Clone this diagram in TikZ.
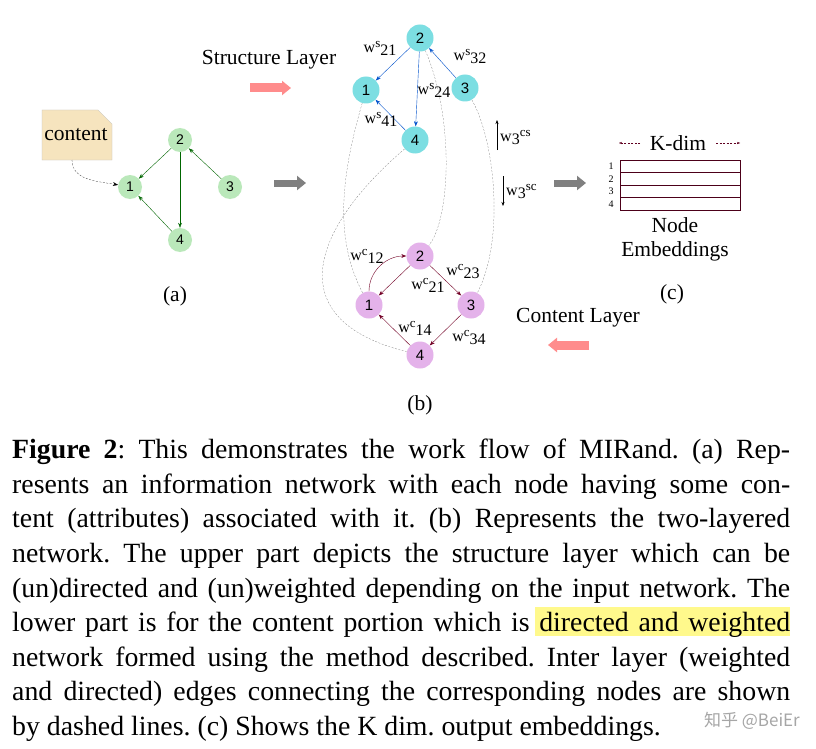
\documentclass[tikz,border=0pt]{standalone}
\usepackage{fontspec}
\setmainfont{Liberation Serif}
\newfontfamily\sansf{Liberation Sans}
\newfontfamily\cjk{Noto Sans CJK SC}
\usetikzlibrary{arrows.meta}
\definecolor{scyan}{RGB}{124,222,226}
\definecolor{cpink}{RGB}{228,178,234}
\definecolor{agreen}{RGB}{186,232,186}
\definecolor{cbox}{RGB}{246,228,190}
\newcommand{\wsup}[3]{w\raisebox{5pt}{\fontsize{13}{13}\selectfont #1}\raisebox{-3pt}{#2}#3}
\begin{document}
\frenchspacing
\begin{tikzpicture}[x=1pt,y=-1pt,
  gn/.style={circle,fill=agreen,draw=none,minimum size=24pt,inner sep=0pt,font=\sansf\fontsize{14}{14}\selectfont},
  sn/.style={circle,fill=scyan,draw=none,minimum size=27pt,inner sep=0pt,font=\sansf\fontsize{15}{15}\selectfont},
  cn/.style={circle,fill=cpink,draw=none,minimum size=27pt,inner sep=0pt,font=\sansf\fontsize{15}{15}\selectfont},
  ga/.style={-{Stealth[length=5pt]},draw=green!40!black,thin},
  sa/.style={-{Stealth[length=5pt]},draw=blue!60!cyan!80!black,thin},
  ca/.style={-{Stealth[length=5pt]},draw=purple!60!black,thin},
  il/.style={dashed,draw=gray!80!black,very thin,dash pattern=on 2pt off 1.5pt},
  wl/.style={font=\fontsize{16}{16}\selectfont,inner sep=1pt},
  lbl/.style={font=\fontsize{21.5}{21.5}\selectfont},
  fat/.style={line width=7pt,-{Triangle[length=9pt,width=14pt]}},
  capl/.style={anchor=base west,inner sep=0pt,font=\fontsize{27.8}{27.8}\selectfont}]
\useasboundingbox (0,0) rectangle (816,749);
\fill[white] (0,0) rectangle (816,749);
% (a)
\node[gn] (a1) at (130,187) {1};
\node[gn] (a2) at (180,140) {2};
\node[gn] (a3) at (230,187) {3};
\node[gn] (a4) at (180,240) {4};
\fill[cbox,draw=gray!50,very thin] (42,110) -- (98,110) -- (112,124) -- (112,160) -- (42,160) -- cycle;
\node[lbl] (ct) at (76,135) {content};
\coordinate (ctb) at (72,160);
\draw[ga] (a2) -- (a1);
\draw[ga] (a2) -- (a4);
\draw[ga] (a3) -- (a2);
\draw[ga] (a4) -- (a1);
\draw[il,-{Stealth[length=5pt]},draw=black] (ctb) to[out=-90,in=170] (a1);
\node[lbl] (la) at (175,296) {(a)};
% grey arrows
\coordinate (g1s) at (274,183); \coordinate (g1e) at (306,183);
\coordinate (g2s) at (554,183); \coordinate (g2e) at (586,183);
\draw[fat,gray] (g1s) -- (g1e);
\draw[fat,gray] (g2s) -- (g2e);
% pink arrows
\node[lbl] (sl) at (269,60) {Structure Layer};
\coordinate (p1s) at (250,88); \coordinate (p1e) at (291,88);
\draw[fat,line width=9pt,red!45!white] (p1s) -- (p1e);
\node[lbl] (cl) at (578,318) {Content Layer};
\coordinate (p2s) at (589,345); \coordinate (p2e) at (548,345);
\draw[fat,line width=9pt,red!45!white] (p2s) -- (p2e);
% structure layer
\node[sn] (s2) at (420,38) {2};
\node[sn] (s1) at (366,90) {1};
\node[sn] (s3) at (465,88) {3};
\node[sn] (s4) at (415,140) {4};
\draw[sa] (s2) -- (s1);
\draw[sa] (s2) -- (s4);
\draw[sa] (s3) -- (s2);
\draw[sa] (s4) -- (s1);
\node[wl] at (380,48) {\wsup{s}{21}{}};
\node[wl] at (470,57) {\wsup{s}{32}{}};
\node[wl] at (434,90) {\wsup{s}{24}{}};
\node[wl] at (381,119) {\wsup{s}{41}{}};
% content layer
\node[cn] (c2) at (420,256) {2};
\node[cn] (c1) at (369,305) {1};
\node[cn] (c3) at (471,305) {3};
\node[cn] (c4) at (420,355) {4};
\draw[ca] (c1) to[out=90,in=180] (c2);
\draw[ca] (c2) -- (c1);
\draw[ca] (c2) -- (c3);
\draw[ca] (c3) -- (c4);
\draw[ca] (c4) -- (c1);
\node[wl] at (367,256) {\wsup{c}{12}{}};
\node[wl] at (428,285) {\wsup{c}{21}{}};
\node[wl] at (463,272) {\wsup{c}{23}{}};
\node[wl] at (415,328) {\wsup{c}{14}{}};
\node[wl] at (469,338) {\wsup{c}{34}{}};
% inter-layer
\draw[il] (s1) .. controls (340,180) and (335,240) .. (c1);
\draw[il] (s4) .. controls (310,230) and (280,320) .. (c4);
\draw[il] (s2) .. controls (455,120) and (450,220) .. (c2);
\draw[il] (s3) .. controls (495,140) and (505,240) .. (c3);
\coordinate (u1) at (497,150); \coordinate (u2) at (497,120);
\coordinate (d1) at (503,176); \coordinate (d2) at (503,206);
\draw[-{Stealth[length=4pt]},thin] (u1) -- (u2);
\draw[-{Stealth[length=4pt]},thin] (d1) -- (d2);
\node[wl,anchor=west] at (499,138) {w\raisebox{-3pt}{3}\raisebox{5pt}{\fontsize{13}{13}\selectfont cs}};
\node[wl,anchor=west] at (505,192) {w\raisebox{-3pt}{3}\raisebox{5pt}{\fontsize{13}{13}\selectfont sc}};
% (c)
\node[lbl] (kd) at (678,143) {K-dim};
\coordinate (k1) at (640,143); \coordinate (k2) at (619,143);
\coordinate (k3) at (716,143); \coordinate (k4) at (740,143);
\draw[il,draw=purple!50!black,-{Stealth[length=3pt]}] (k1) -- (k2);
\draw[il,draw=purple!50!black,-{Stealth[length=3pt]}] (k3) -- (k4);
\draw[purple!40!black,thin] (620,160) rectangle (740,210);
\foreach \yy in {172.5,185,197.5} \draw[purple!40!black,thin] (620,\yy) -- (740,\yy);
\foreach \i/\yy in {1/166,2/179,3/191,4/204} \node[font=\fontsize{10}{10}\selectfont,inner sep=0pt] at (611,\yy) {\i};
\node[lbl] at (675,225) {Node};
\node[lbl] at (675,251) {Embeddings};
\node[lbl] at (672,294) {(c)};
\node[lbl] at (420,405) {(b)};
% caption
\fill[yellow!45!white] (535,607) rectangle (790,636);
\node[capl] at (12,458) {\hbox to 778pt{\textbf{Figure 2}: This demonstrates the work flow of MIRand. (a) Rep-}};
\node[capl] at (12,493) {\hbox to 778pt{resents an information network with each node having some con-}};
\node[capl] at (12,527) {\hbox to 778pt{tent (attributes) associated with it. (b) Represents the two-layered}};
\node[capl] at (12,562) {\hbox to 778pt{network. The upper part depicts the structure layer which can be}};
\node[capl] at (12,597) {\hbox to 778pt{(un)directed and (un)weighted depending on the input network. The}};
\node[capl] at (12,631) {\hbox to 778pt{lower part is for the content portion which is directed and weighted}};
\node[capl] at (12,666) {\hbox to 778pt{network formed using the method described. Inter layer (weighted}};
\node[capl] at (12,700) {\hbox to 778pt{and directed) edges connecting the corresponding nodes are shown}};
\node[capl] at (12,735) {by dashed lines. (c) Shows the K dim. output embeddings.};
\node[anchor=base east,font=\cjk\fontsize{17}{17}\selectfont,text=gray!70,inner sep=0pt] at (800,726) {知乎 @BeiEr};
\end{tikzpicture}
\end{document}
